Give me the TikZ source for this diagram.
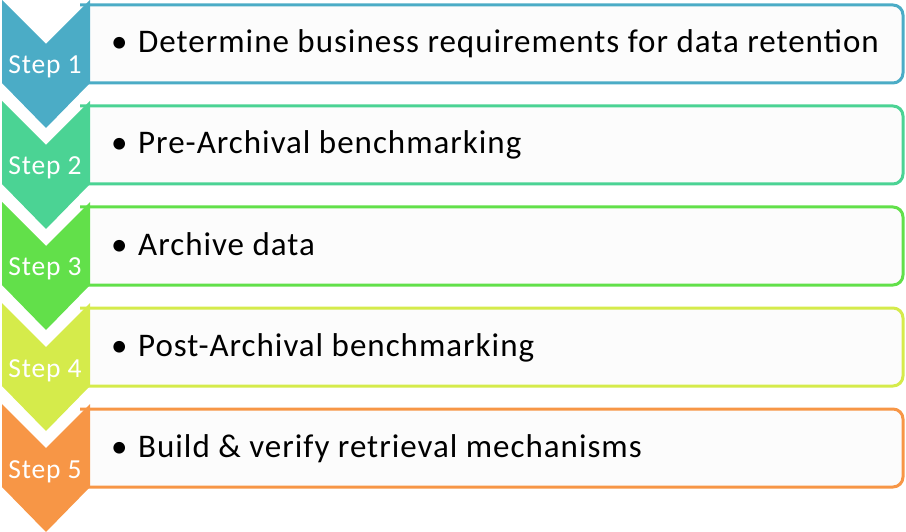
\documentclass[tikz,border=0pt]{standalone}
\usepackage{fontspec}
\setmainfont{Carlito}
\newfontfamily\spacedfont[LetterSpace=3.0]{Carlito}
\definecolor{cA}{HTML}{4BACC6}
\definecolor{cB}{HTML}{4BD394}
\definecolor{cC}{HTML}{62E04A}
\definecolor{cD}{HTML}{D5EB4B}
\definecolor{cE}{HTML}{F79646}
\definecolor{boxfill}{HTML}{FCFCFC}
\tikzset{
  stepbox/.style={draw=#1, line width=3pt, fill=boxfill},
  chev/.style={fill=#1, draw=none},
  steplabel/.style={text=white, font=\spacedfont\fontsize{27.5}{30}\selectfont, anchor=base, inner sep=0pt},
  itemtext/.style={text=black, font=\spacedfont\fontsize{33}{38}\selectfont, anchor=base west, inner sep=0pt},
}
\newcommand{\bul}{\makebox[27pt][l]{\textbullet}}
\begin{document}
\begin{tikzpicture}[x=1pt,y=-1pt]
\useasboundingbox (0,0) rectangle (906,532);
\foreach \i/\col/\txt in {0/cA/Determine business requirements for data retention,
                          1/cB/Pre-Archival benchmarking,
                          2/cC/Archive data,
                          3/cD/Post-Archival benchmarking,
                          4/cE/Build \& verify retrieval mechanisms}{
  \pgfmathsetmacro{\oy}{101*\i}
  \draw[stepbox=\col] (80,\oy+5) [rounded corners=10pt] -- (903,\oy+5) -- (903,\oy+83) [sharp corners] -- (80,\oy+83);
  \fill[chev=\col] (2,\oy) -- (46,\oy+44) -- (90,\oy) -- (90,\oy+83) -- (46,\oy+128) -- (2,\oy+83) -- cycle;
  \node[steplabel] (s\i) at (45,\oy+74) {Step \pgfmathparse{int(\i+1)}\pgfmathresult};
  \node[itemtext] (t\i) at (111,\oy+53) {\bul\txt};
}
\end{tikzpicture}
\end{document}
